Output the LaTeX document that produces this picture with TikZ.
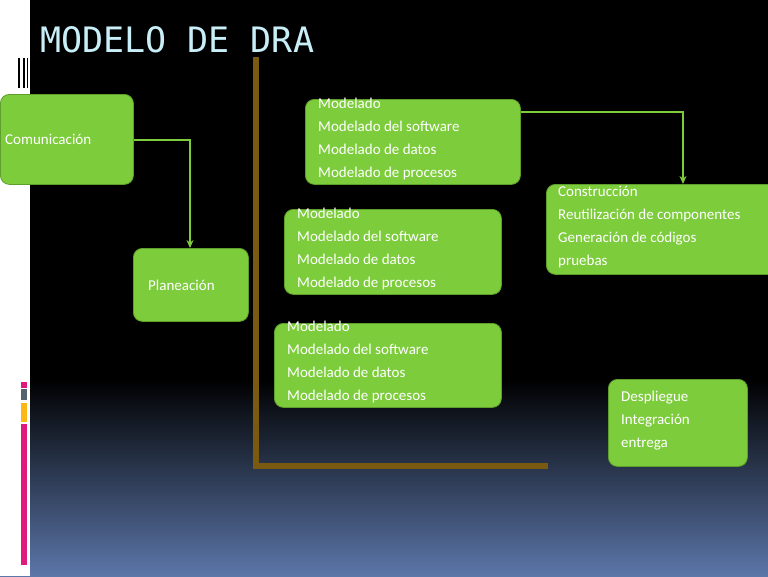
\documentclass[tikz,border=0pt]{standalone}
\usepackage{fontspec}
\setmainfont{Carlito}
\newfontfamily\titlefont{DejaVu Sans Mono}
\usetikzlibrary{arrows.meta}
\definecolor{boxg}{HTML}{7DCC3C}
\definecolor{boxb}{HTML}{5E9E2A}
\definecolor{brownl}{HTML}{7A5A10}
\definecolor{titlec}{HTML}{C8EEF8}
\definecolor{bottomc}{HTML}{5B76A8}
\definecolor{barpink}{HTML}{E0197D}
\definecolor{bargray}{HTML}{556270}
\definecolor{baryel}{HTML}{FDB813}
\tikzset{
 gbox/.style={draw=boxb,line width=0.8pt,fill=boxg,rounded corners=9pt,text=white,font=\fontsize{15}{23}\selectfont,align=left,inner sep=0pt},
 conn/.style={draw=boxg,line width=1.5pt,-{Stealth[length=8pt,width=7pt]}},
 txt/.style={anchor=north west,text=white,font=\fontsize{15}{23}\selectfont,align=left,inner sep=0pt},
}
\begin{document}
\begin{tikzpicture}[x=1pt,y=-1pt]
\useasboundingbox (0,0) rectangle (768,576);
\clip (0,0) rectangle (768,576);
\fill[black] (0,0) rectangle (768,380);
\shade[top color=black,bottom color=bottomc] (0,379) rectangle (768,576);
\fill[white] (0,0) rectangle (30,576);
\fill[black] (18,58) rectangle (20,88);
\fill[black] (23,58) rectangle (25,88);
\fill[black] (27,58) rectangle (28,88);
\fill[barpink] (21,382) rectangle (27,388);
\fill[bargray] (21,389) rectangle (27,400);
\fill[baryel] (21,403) rectangle (27,422);
\fill[barpink] (21,424) rectangle (27,565);
\node[anchor=base west,text=titlec,font=\titlefont\fontsize{35}{35}\selectfont,inner sep=0pt] (title) at (40,52) {MODELO DE DRA};
\draw[brownl,line width=6pt] (256,57) -- (256,466) -- (548,466);
\node[gbox,minimum width=133pt,minimum height=90pt,anchor=north west] (com) at (0,94) {};
\node[anchor=west,text=white,font=\fontsize{15}{18}\selectfont,inner sep=0pt] (comt) at (5,139) {Comunicación};
\node[gbox,minimum width=115pt,minimum height=73pt,anchor=north west] (plan) at (133,248) {};
\node[anchor=west,text=white,font=\fontsize{15}{18}\selectfont,inner sep=0pt] (plant) at (148,285) {Planeación};
\node[gbox,minimum width=215pt,minimum height=85pt,anchor=north west] (a) at (305,99) {};
\node[txt] (at) at (318,98) {Modelado\\Modelado del software\\Modelado de datos\\Modelado de\ procesos};
\node[gbox,minimum width=217pt,minimum height=85pt,anchor=north west] (b) at (284,209) {};
\node[txt] (bt) at (297,208) {Modelado\\Modelado del software\\Modelado de datos\\Modelado de\ procesos};
\node[gbox,minimum width=227pt,minimum height=84pt,anchor=north west] (c) at (274,323) {};
\node[txt] (ct) at (287,321) {Modelado\\Modelado del software\\Modelado de datos\\Modelado de\ procesos};
\node[gbox,minimum width=240pt,minimum height=90pt,anchor=north west] (con) at (546,184) {};
\node[txt] (cont) at (558,186) {Construcción\\Reutilización de componentes\\Generación de códigos\\pruebas};
\node[gbox,minimum width=139pt,minimum height=87pt,anchor=north west] (des) at (608,379) {};
\node[txt] (dest) at (621,391) {Despliegue\\Integración\\entrega};
\draw[conn] (com.east |- 0,140) -| (plan.north -| 190,0);
\draw[conn] (a.east |- 0,112) -| (con.north -| 683,0);
\end{tikzpicture}
\end{document}
